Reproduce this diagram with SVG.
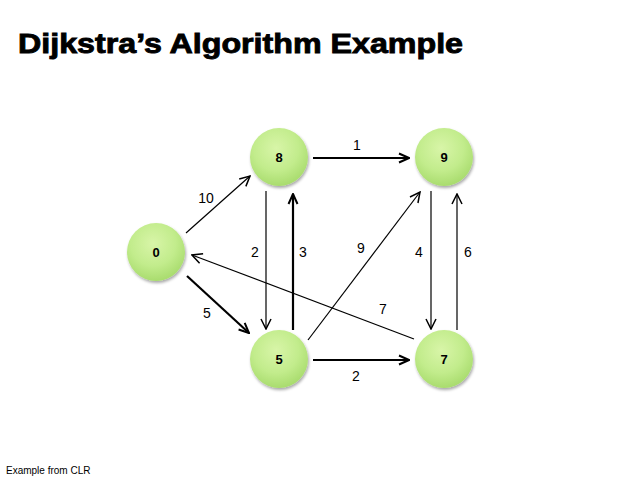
<svg xmlns="http://www.w3.org/2000/svg" width="638" height="478" viewBox="0 0 638 478">
<defs>
<radialGradient id="g" cx="45%" cy="35%" r="65%">
<stop offset="0" stop-color="#d8f5a8"/>
<stop offset="0.6" stop-color="#c2ec8c"/>
<stop offset="1" stop-color="#a9dc6e"/>
</radialGradient>
<filter id="sh" x="-30%" y="-30%" width="160%" height="160%">
<feGaussianBlur in="SourceAlpha" stdDeviation="1.5"/>
<feOffset dx="1" dy="2" result="b"/>
<feComponentTransfer><feFuncA type="linear" slope="0.35"/></feComponentTransfer>
<feMerge><feMergeNode/><feMergeNode in="SourceGraphic"/></feMerge>
</filter>
<marker id="a" viewBox="0 0 12 12" refX="11" refY="6" markerWidth="12" markerHeight="12" markerUnits="userSpaceOnUse" orient="auto">
<path d="M1,1 L11,6 L1,11" fill="none" stroke="#000" stroke-width="1.5"/>
</marker>
<marker id="at" viewBox="0 0 12 12" refX="11" refY="6" markerWidth="12" markerHeight="12" markerUnits="userSpaceOnUse" orient="auto">
<path d="M1,1.5 L11,6 L1,10.5" fill="none" stroke="#000" stroke-width="2"/>
</marker>
</defs>
<style>
.n circle{fill:url(#g);filter:url(#sh)}
.n text{font-family:"Liberation Sans",Arial,sans-serif;font-weight:bold;font-size:13px;text-anchor:middle}
.thin{stroke:#000;stroke-width:1.2;fill:none;marker-end:url(#a)}
.thick{stroke:#000;stroke-width:2.2;fill:none;marker-end:url(#at)}
.lb{font-family:"Liberation Sans",Arial,sans-serif;font-size:14px;text-anchor:middle}
</style>
<rect width="638" height="478" fill="#fff"/>
<text x="18" y="53" font-family="'Liberation Sans',Arial,sans-serif" font-weight="900" font-size="28" stroke="#000" stroke-width="0.9" textLength="445" lengthAdjust="spacingAndGlyphs">Dijkstra’s Algorithm Example</text>
<g id="connectors">
<line class="thin" x1="186" y1="233" x2="250" y2="176"/>
<line class="thick" x1="187" y1="276" x2="249" y2="333"/>
<line class="thin" x1="266" y1="191" x2="266" y2="329"/>
<line class="thick" x1="293" y1="330" x2="293" y2="194"/>
<line class="thick" x1="313" y1="158" x2="409" y2="158"/>
<line class="thick" x1="313" y1="360" x2="409" y2="360"/>
<line class="thin" x1="308" y1="340" x2="420" y2="192"/>
<line class="thin" x1="431" y1="191" x2="431" y2="329"/>
<line class="thin" x1="457" y1="330" x2="457" y2="194"/>
<line class="thin" x1="414" y1="339" x2="192" y2="255"/>
<text class="lb" x="206" y="203">10</text>
<text class="lb" x="207" y="318">5</text>
<text class="lb" x="255" y="257">2</text>
<text class="lb" x="303" y="257">3</text>
<text class="lb" x="357" y="150">1</text>
<text class="lb" x="361" y="253">9</text>
<text class="lb" x="419" y="257">4</text>
<text class="lb" x="468" y="257">6</text>
<text class="lb" x="383" y="314">7</text>
<text class="lb" x="356" y="381">2</text>
</g>
<g id="node0" class="n"><circle cx="156" cy="252" r="29"/><text x="156" y="257">0</text></g>
<g id="node8" class="n"><circle cx="279" cy="157" r="29"/><text x="279" y="162">8</text></g>
<g id="node5" class="n"><circle cx="279" cy="359" r="29"/><text x="279" y="364">5</text></g>
<g id="node9" class="n"><circle cx="444" cy="157" r="29"/><text x="444" y="162">9</text></g>
<g id="node7" class="n"><circle cx="444" cy="359" r="29"/><text x="444" y="364">7</text></g>
<text x="6" y="474" font-family="'Liberation Sans',Arial,sans-serif" font-size="10">Example from CLR</text>
</svg>
